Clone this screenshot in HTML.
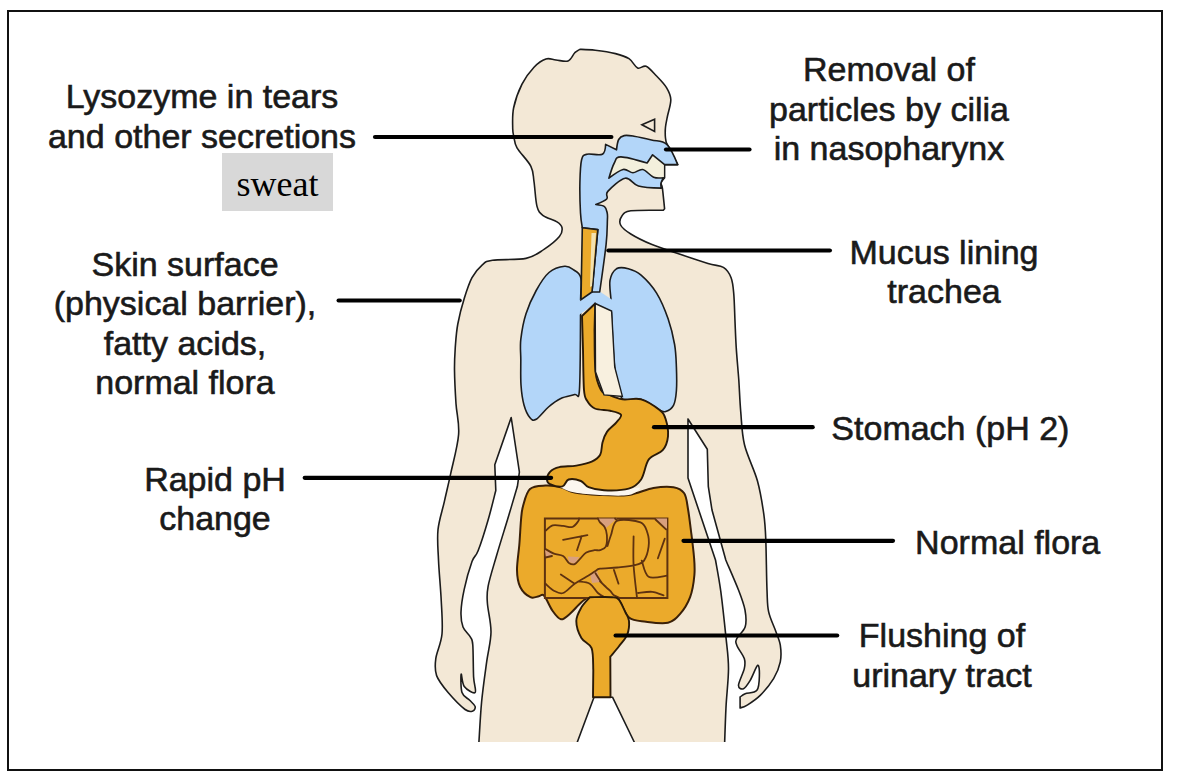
<!DOCTYPE html>
<html><head><meta charset="utf-8"><style>
html,body{margin:0;padding:0;background:#fff;width:1177px;height:778px;overflow:hidden;position:relative}
.sweat{position:absolute;left:222px;top:153px;width:111px;height:58px;background:#d8d8d8;font-family:"Liberation Serif",serif;font-size:36px;line-height:62px;text-align:center;color:#000}
</style></head><body>
<svg width="1177" height="778" viewBox="0 0 1177 778" style="position:absolute;left:0;top:0">
<rect x="8" y="11" width="1154" height="759" fill="#fff" stroke="#111" stroke-width="2"/>
<path d="M579.9,49.3 C582.5,49.4 589.3,49.5 595.2,50.2 C601.1,50.9 609.9,52.2 615.5,53.6 C621.1,55.0 625.3,56.3 629.0,58.7 C632.7,61.1 634.8,66.7 637.6,68.0 C640.5,69.3 643.0,65.0 646.1,66.3 C649.2,67.6 652.9,72.2 656.3,75.7 C659.7,79.2 664.1,83.6 666.5,87.6 C668.9,91.6 670.6,94.8 670.8,99.5 C671.0,104.2 668.4,111.4 667.5,116.0 C666.6,120.6 665.9,123.7 665.5,127.0 C665.1,130.3 665.2,133.4 665.3,136.0 C665.4,138.6 666.1,141.3 666.2,142.4 L677.7,164.6 L664.6,164.6 L664.6,177.7 C664.0,178.6 661.4,181.3 661.0,183.0 C660.6,184.7 661.8,183.8 662.4,188.1 C663.0,192.4 664.2,205.4 664.6,208.8 L663.3,210.3 C657.9,210.4 637.7,209.9 630.8,210.8 C623.9,211.8 623.6,213.6 621.9,216.0 C620.2,218.4 619.1,222.0 620.6,225.0 C622.1,228.0 625.7,230.8 630.8,234.0 C635.9,237.2 643.7,241.1 651.4,244.3 C659.1,247.5 667.7,250.1 677.1,253.3 C686.5,256.5 700.3,261.1 708.0,263.5 C715.7,265.9 719.5,265.0 723.4,267.4 C727.2,269.8 729.4,273.4 731.1,277.7 C732.8,282.0 733.1,285.8 733.7,293.1 C734.4,300.4 734.6,312.4 735.0,321.4 C735.4,330.4 735.6,337.3 736.2,347.1 C736.8,356.9 738.0,369.3 738.8,380.0 C739.5,390.7 739.8,400.6 740.7,411.4 C741.7,422.2 741.7,433.2 744.5,444.8 C747.3,456.4 754.2,469.2 757.4,480.8 C760.6,492.4 762.4,504.3 763.8,514.2 C765.2,524.1 765.3,527.4 765.8,540.0 C766.3,552.6 766.5,578.0 767.0,590.0 C767.5,602.0 767.2,605.0 768.6,611.7 C770.0,618.4 773.3,624.5 775.3,630.1 C777.2,635.7 779.5,639.9 780.3,645.2 C781.1,650.5 781.4,656.3 780.3,661.9 C779.2,667.5 777.0,673.0 773.6,678.6 C770.2,684.2 764.7,690.9 760.2,695.4 C755.7,699.9 750.1,703.3 746.8,705.4 C743.4,707.5 741.2,707.5 740.1,707.9 L740.1,697.0 C741.0,696.5 742.4,694.8 745.2,693.7 C748.0,692.6 754.5,693.4 756.9,690.3 C759.3,687.2 759.3,679.5 759.4,675.3 C759.5,671.1 759.2,664.5 757.7,665.3 C756.2,666.1 752.6,676.4 750.2,680.3 C747.8,684.2 745.5,687.9 743.5,688.7 C741.5,689.5 738.4,688.6 738.5,685.3 C738.6,681.9 743.3,673.0 744.3,668.6 C745.3,664.2 745.5,662.5 744.3,658.6 C743.0,654.7 738.0,648.6 736.8,645.2 C735.5,641.9 735.4,641.6 736.8,638.5 C738.2,635.4 743.8,631.5 745.2,626.8 C746.6,622.0 746.1,616.1 745.0,610.0 C743.9,603.9 741.7,598.3 738.5,590.0 C735.3,581.7 727.9,565.0 725.8,560.0 L712.0,510.0 L708.3,486.3 L707.3,449.3 L688.0,419.0 L688.0,478.0 L692.0,490.0 L715.5,560.0 L715.5,560.0 C716.4,565.2 719.0,578.4 720.8,591.4 C722.5,604.4 724.7,624.9 726.0,637.7 C727.3,650.6 728.5,656.9 728.5,668.5 C728.5,680.1 726.6,694.5 726.0,707.1 C725.4,719.7 724.8,737.9 724.6,744.0 L724.6,744.0 L635.2,744.0 L612.5,697.2 L594.0,697.2 L576.6,744.0 L478.8,744.0 L478.8,744.0 C479.3,737.0 480.3,715.7 481.6,702.0 C482.9,688.3 485.1,673.4 486.7,661.7 C488.3,650.0 490.9,641.8 491.0,632.0 C491.1,622.2 487.9,610.8 487.4,603.2 C486.9,595.6 486.6,594.2 488.1,586.3 C489.6,578.3 493.4,566.5 496.6,555.5 C499.8,544.5 503.9,531.5 507.4,520.0 C510.9,508.5 515.7,491.9 517.4,486.3 L519.4,472.0 L511.2,417.5 L494.8,464.8 L495.8,490.5 L495.8,490.5 C494.5,495.4 491.1,509.9 488.1,520.0 C485.2,530.0 480.8,543.9 478.1,550.8 C475.4,557.7 474.3,555.2 472.0,561.6 C469.7,568.0 466.0,581.0 464.2,589.4 C462.4,597.8 461.2,605.7 461.0,612.0 C460.8,618.3 461.4,622.8 463.0,627.0 C464.6,631.2 468.8,634.1 470.4,637.1 C472.0,640.1 472.3,638.4 472.8,645.0 C473.3,651.6 473.2,669.1 473.6,677.0 C474.0,684.9 476.7,690.9 475.1,692.5 C473.6,694.1 466.6,689.5 464.3,686.4 C462.0,683.3 461.6,673.0 461.2,674.0 C460.8,675.0 460.6,688.1 462.0,692.5 C463.4,696.9 467.5,698.0 469.7,700.3 C471.9,702.6 474.6,704.6 475.1,706.4 C475.6,708.2 474.5,710.5 472.8,711.0 C471.1,711.5 469.2,712.6 465.1,709.5 C461.0,706.4 452.9,698.1 448.1,692.5 C443.4,686.9 438.7,681.2 436.6,675.6 C434.6,670.0 434.9,665.5 435.8,658.6 C436.7,651.7 441.1,643.8 442.0,634.0 C442.9,624.2 441.8,612.3 441.2,600.0 C440.6,587.7 439.0,571.7 438.5,560.0 C438.0,548.3 437.0,539.5 438.0,529.7 C439.0,519.9 442.3,510.8 444.4,501.4 C446.5,492.0 448.4,484.2 450.8,473.1 C453.2,462.0 457.7,446.1 458.6,434.5 C459.5,422.9 456.7,414.4 456.0,403.7 C455.3,392.9 454.6,379.4 454.5,370.0 C454.4,360.6 454.8,354.7 455.3,347.0 C455.9,339.3 456.3,332.1 457.8,324.0 C459.3,315.9 461.9,306.0 464.3,298.3 C466.7,290.6 469.0,283.3 472.0,277.7 C475.0,272.1 478.9,267.7 482.3,264.8 C485.7,261.9 485.2,261.3 492.5,260.2 C499.8,259.1 517.4,260.2 526.0,258.4 C534.6,256.6 538.4,253.0 544.0,249.4 C549.6,245.8 556.4,240.2 559.4,236.6 C562.4,233.0 562.4,230.1 562.0,227.6 C561.6,225.1 560.1,223.8 557.0,221.8 C553.9,219.8 546.5,218.2 543.2,215.6 C539.9,213.0 538.5,212.1 537.0,206.4 C535.5,200.8 535.0,188.4 534.0,181.7 C533.0,175.0 533.7,172.0 530.9,166.3 C528.1,160.7 519.8,152.7 517.0,147.8 C514.2,142.9 514.6,140.2 513.9,137.0 C513.2,133.8 512.8,133.2 512.7,128.4 C512.7,123.6 512.1,115.4 513.6,108.0 C515.1,100.6 518.6,91.0 522.0,84.2 C525.4,77.4 530.0,71.4 534.0,67.2 C538.0,63.0 542.2,60.2 545.9,59.0 C549.6,57.8 552.3,59.7 556.0,60.0 C559.7,60.3 564.9,62.2 568.0,61.0 C571.1,59.8 572.8,54.7 574.8,52.7 C576.8,50.8 579.0,49.9 579.9,49.3 Z" fill="#f3e8d6" stroke="#1c1c1c" stroke-width="1.6" stroke-linejoin="round"/>
<rect x="470" y="742" width="260" height="10" fill="#fff"/>
<path d="M641.9,124.8 L654.6,119.2 L654.6,131.5 Z" fill="none" stroke="#1c1c1c" stroke-width="1.6"/>
<path d="M564.6,266.3 C568.8,265.9 571.2,268.1 573.9,270.0 C576.6,271.9 579.7,272.8 580.8,277.8 C581.9,282.8 580.7,289.6 580.6,300.0 C580.5,310.4 580.6,324.7 580.4,340.0 C580.2,355.3 580.2,382.7 579.3,391.8 C578.3,400.9 577.8,393.5 574.7,394.6 C571.6,395.7 565.2,396.4 560.8,398.5 C556.4,400.6 552.6,403.5 548.5,407.0 C544.4,410.5 539.3,417.5 536.2,419.3 C533.1,421.1 532.0,420.2 530.0,417.8 C528.0,415.4 525.5,410.5 524.0,405.0 C522.5,399.5 521.5,392.5 521.0,385.0 C520.5,377.5 520.8,367.6 520.8,360.0 C520.8,352.4 519.9,347.1 520.8,339.4 C521.7,331.7 523.4,321.8 526.0,313.7 C528.6,305.6 532.4,297.4 536.2,290.5 C540.0,283.6 544.3,276.5 549.0,272.5 C553.7,268.5 560.5,266.7 564.6,266.3 Z" fill="#b3d6f9" stroke="#1c1c1c" stroke-width="1.6"/>
<path d="M610.0,280.4 C610.9,275.2 613.4,270.8 616.4,268.8 C619.4,266.9 624.2,267.6 628.3,268.7 C632.4,269.8 636.4,271.0 641.1,275.1 C645.8,279.2 652.1,285.8 656.6,293.1 C661.1,300.4 665.1,310.2 668.1,318.8 C671.1,327.4 673.2,336.4 674.6,344.5 C676.0,352.6 676.1,359.4 676.4,367.1 C676.7,374.8 676.9,384.4 676.4,390.8 C675.9,397.2 675.3,401.9 673.5,405.4 C671.7,408.9 668.0,410.8 665.7,411.6 C663.4,412.4 663.7,412.1 659.6,410.0 C655.5,407.9 647.3,401.1 641.1,399.3 C634.9,397.5 626.9,404.7 622.5,399.3 C618.1,393.9 616.5,380.9 614.7,367.0 C612.9,353.1 612.2,327.4 611.6,316.2 C611.0,305.0 611.3,306.0 611.0,300.0 C610.7,294.0 609.1,285.6 610.0,280.4 Z" fill="#b3d6f9" stroke="#1c1c1c" stroke-width="1.6"/>
<path d="M577.5,301.5 L592.0,291.5 L599.7,291.5 L614.0,301.0 L614.0,312.5 L595.2,303.5 L577.5,316.0 Z" fill="#b3d6f9"/>
<path d="M663.6,164.6 L652.6,154.8 L647.1,163 L620.9,156.9 L614.3,163 L608.9,178.2 L623.1,169.5 L632.9,172.8 L642.7,169.5 L653.6,177.2 L663.6,177.7 Z" fill="#f3f0dc"/>
<path d="M581.6,159.7 C582.8,155.0 583.5,155.1 587.0,154.2 C590.5,153.3 599.2,155.8 602.3,154.2 C605.4,152.6 605.6,144.4 605.6,144.4 C605.6,144.4 616.5,149.8 616.5,149.8 C616.5,149.8 617.4,141.9 618.7,139.5 C620.0,137.1 621.7,136.2 624.2,135.6 C626.8,135.0 629.5,135.5 634.0,136.2 C638.5,136.9 646.0,138.6 651.5,140.0 C657.0,141.4 662.4,140.3 666.8,144.4 C671.2,148.5 677.7,164.6 677.7,164.6 C677.7,164.6 664.6,164.6 664.6,164.6 C664.6,164.6 652.6,154.8 652.6,154.8 C652.6,154.8 647.1,163.0 647.1,163.0 C647.1,163.0 626.4,156.9 620.9,156.9 C615.4,156.9 616.3,159.4 614.3,163.0 C612.3,166.6 608.9,178.2 608.9,178.2 C608.9,178.2 619.1,170.4 623.1,169.5 C627.1,168.6 629.6,172.8 632.9,172.8 C636.2,172.8 639.2,168.8 642.7,169.5 C646.2,170.2 650.1,175.8 653.6,177.2 C657.1,178.6 663.5,177.7 663.5,177.7 C663.5,177.7 661.4,181.3 661.0,183.0 C660.6,184.7 661.3,188.1 661.3,188.1 C661.3,188.1 644.4,187.6 638.4,185.9 C632.4,184.2 630.3,177.3 625.2,178.2 C620.1,179.1 610.9,187.9 607.8,191.4 C604.7,194.9 608.7,196.8 606.7,199.0 C604.7,201.2 595.8,204.5 595.8,204.5 C595.8,204.5 602.6,205.2 604.5,206.6 C606.4,208.0 606.7,210.8 607.2,213.0 C607.7,215.2 607.6,214.8 607.4,220.0 C607.2,225.2 607.4,232.4 606.1,244.4 C604.8,256.4 599.7,292.0 599.7,292.0 C599.7,292.0 592.0,292.0 592.0,292.0 C592.0,292.0 597.8,229.6 597.8,229.6 C597.8,229.6 582.3,227.7 582.3,227.7 C582.3,227.7 580.9,220.5 580.5,213.0 C580.1,205.5 579.7,191.5 579.9,182.6 C580.1,173.7 580.4,164.4 581.6,159.7 Z" fill="#b3d6f9" stroke="#1c1c1c" stroke-width="1.6" stroke-linejoin="round"/>
<path d="M582.3,227.7 L597.8,229.6 L592.0,292.0 L581.0,299.7 Z" fill="#ebaa2b" stroke="#1c1c1c" stroke-width="1.6"/>
<path d="M591.5,233.0 L596.0,233.0 L592.0,286.0 L590.0,287.0 Z" fill="#f3e2b0"/>
<path d="M530.0,489.0 C533.7,485.6 540.3,485.9 545.4,485.6 C550.5,485.3 555.9,486.0 560.8,487.2 C565.7,488.4 568.3,491.3 574.7,492.6 C581.1,493.9 590.4,494.5 599.4,494.9 C608.4,495.3 619.7,496.0 628.7,494.9 C637.7,493.8 645.9,489.3 653.4,488.0 C660.9,486.7 668.4,486.3 673.5,487.2 C678.6,488.1 681.8,489.7 684.2,493.3 C686.6,496.9 686.9,502.7 688.0,509.0 C689.1,515.3 690.0,523.0 691.0,531.0 C692.0,539.0 693.4,549.7 694.0,557.0 C694.6,564.3 695.0,568.3 694.4,575.0 C693.8,581.7 692.5,590.7 690.1,597.2 C687.7,603.7 683.6,610.0 679.9,614.2 C676.2,618.5 673.6,621.4 668.0,622.7 C662.4,624.0 652.5,622.6 646.0,621.8 C639.5,620.9 633.5,621.3 629.0,617.6 C624.5,613.9 621.6,603.1 618.8,599.7 C616.0,596.3 616.8,597.6 612.0,597.2 C607.2,596.8 595.0,596.4 589.9,597.2 C584.8,598.1 584.8,599.5 581.4,602.3 C578.0,605.1 572.9,611.4 569.5,614.2 C566.1,617.0 563.8,619.9 561.0,619.3 C558.2,618.7 555.3,614.8 552.5,610.8 C549.7,606.8 546.3,597.9 544.0,595.5 C541.7,593.1 541.2,596.0 538.9,596.3 C536.6,596.6 533.5,598.8 530.4,597.2 C527.3,595.7 522.4,591.5 520.2,587.0 C518.0,582.5 517.1,577.0 517.0,570.0 C516.9,563.0 518.6,553.3 519.3,545.0 C520.0,536.7 520.4,526.5 521.0,520.0 C521.6,513.5 521.6,510.9 523.1,505.7 C524.6,500.5 526.3,492.4 530.0,489.0 Z" fill="#ebaa2b" stroke="#3a2008" stroke-width="2"/>
<rect x="544.9" y="518.5" width="122.5" height="79.5" fill="#ebaa2b" stroke="#5e3210" stroke-width="2"/>
<path d="M597.9,518.5 L617.0,518.5 L606.0,528.0 L602.0,524.0 Z M567.8,556.5 L579.3,557.0 L574.7,564.0 L569.0,562.0 Z M655.5,518.5 L667.0,518.5 L667.0,529.0 Z M545.0,550.0 L553.0,554.0 L546.0,558.0 Z M590.0,574.0 L597.0,571.0 L601.0,582.0 L592.0,583.0 Z" fill="#d9a07e"/>
<path d="M545.8,530.5 C546.9,529.6 549.8,526.1 552.7,525.3 C555.6,524.5 559.8,525.6 563.1,525.9 C566.4,526.2 569.9,527.8 572.4,527.0 C574.9,526.2 577.1,522.7 578.2,521.3 C579.3,519.9 578.9,519.0 579.0,518.5 M545.5,549.0 C546.9,549.8 551.0,552.5 553.9,553.7 C556.8,554.9 560.6,554.5 563.1,556.0 C565.6,557.5 567.0,561.5 568.9,562.9 C570.8,564.2 572.8,564.9 574.7,564.1 C576.6,563.3 578.6,560.2 580.5,558.3 C582.4,556.4 584.0,553.9 586.3,552.5 C588.6,551.1 592.1,550.6 594.4,550.2 C596.7,549.8 598.1,550.8 600.0,550.2 C601.9,549.6 604.6,549.2 605.8,546.7 C606.9,544.2 607.1,538.4 606.9,535.1 C606.7,531.8 605.8,529.1 604.6,527.0 C603.5,524.9 601.1,523.8 600.0,522.4 C598.9,521.0 598.2,519.1 597.9,518.4 M563.1,539.8 L587.4,535.1 M581.7,536.3 L577.0,550.2 M545.5,557.5 L552.0,556.0 M560.8,574.5 L574.7,583.7 M545.5,583.7 C546.9,584.9 551.0,589.2 553.9,590.7 C556.8,592.2 559.6,594.2 563.1,593.0 C566.6,591.8 570.8,586.4 574.7,583.7 C578.6,581.0 582.8,578.9 586.3,576.8 C589.8,574.7 593.2,572.4 595.5,571.0 C597.8,569.6 596.4,569.3 600.0,568.7 C603.6,568.1 611.6,568.1 617.4,567.5 C623.2,566.9 630.3,566.4 634.7,565.2 C639.1,564.1 641.7,563.7 644.0,560.6 C646.3,557.5 648.0,551.3 648.6,546.7 C649.2,542.1 648.8,536.8 647.4,532.8 C646.0,528.8 645.5,524.4 640.5,522.4 C635.5,520.4 622.3,518.6 617.4,520.7 C612.5,522.8 612.6,530.8 611.0,535.0 C609.4,539.2 608.1,544.2 607.5,546.0 M578.2,581.4 C580.1,581.8 586.5,581.8 589.8,583.7 C593.1,585.6 595.2,590.6 597.9,593.0 C600.6,595.4 604.6,597.2 606.0,598.0 M595.5,573.3 C596.7,575.0 600.1,580.8 602.5,583.7 C604.9,586.6 608.1,588.8 610.0,590.7 C611.9,592.6 612.2,594.1 613.9,595.3 C615.6,596.5 619.0,597.5 620.0,598.0 M600.0,581.4 L606.0,587.0 M633.6,536.3 C633.6,541.1 633.0,555.0 633.6,565.2 C634.2,575.4 636.4,592.2 637.0,597.6 M655.5,519.5 L666.0,529.4 M664.8,538.6 L657.9,558.3 M641.7,560.6 C642.9,563.3 644.4,574.3 648.6,576.8 C652.8,579.3 664.0,575.8 667.1,575.6 M613.9,569.9 L618.5,583.7 M638.2,593.0 C640.5,592.8 647.9,591.4 652.1,591.8 C656.3,592.2 661.7,594.7 663.6,595.3 M617.4,520.7 L615.0,518.5" fill="none" stroke="#5e3210" stroke-width="1.8" stroke-linecap="round"/>
<path d="M562.4,486.4 C563.7,485.1 565.5,480.4 568.6,479.5 C571.7,478.6 577.6,479.7 580.9,481.0 C584.2,482.3 584.8,485.6 588.6,487.2 C592.5,488.8 597.3,490.1 604.0,490.3 C610.7,490.6 622.7,489.1 628.7,488.7 C634.7,488.3 640.0,486.9 640.0,488.0 C640.0,489.1 635.5,493.8 628.7,495.0 C621.9,496.2 608.4,495.4 599.4,495.0 C590.4,494.6 581.1,493.9 574.7,492.6 C568.3,491.4 562.8,488.5 560.8,487.5 C558.8,486.5 561.1,487.7 562.4,486.4 Z" fill="#fbf6ef"/>
<path d="M595.2,303.5 L594.5,330.0 C594.7,337.0 594.4,361.8 595.5,371.8 C596.6,381.8 599.1,386.3 601.0,390.0 C602.9,393.7 603.5,392.3 607.1,393.9 C610.7,395.4 616.8,398.4 622.5,399.3 C628.2,400.2 634.9,397.5 641.1,399.3 C647.3,401.1 655.5,406.7 659.6,410.0 C663.7,413.3 664.3,414.9 665.7,419.3 C667.1,423.7 668.5,431.2 668.0,436.3 C667.5,441.4 665.9,446.4 662.7,450.2 C659.5,454.0 652.4,454.5 648.8,459.4 C645.2,464.3 644.5,474.6 641.1,479.5 C637.8,484.4 634.9,486.9 628.7,488.7 C622.5,490.5 610.7,490.6 604.0,490.3 C597.3,490.1 592.5,488.8 588.6,487.2 C584.8,485.6 584.2,482.3 580.9,481.0 C577.6,479.7 571.7,478.6 568.6,479.5 C565.5,480.4 565.5,485.6 562.4,486.4 C559.3,487.2 552.6,485.2 550.0,484.1 C547.4,483.0 547.0,481.6 547.0,479.5 C547.0,477.4 548.0,473.9 550.0,471.8 C552.0,469.7 554.9,468.1 559.3,467.1 C563.7,466.1 570.9,466.5 576.3,465.6 C581.7,464.7 587.7,463.5 591.7,461.7 C595.7,459.9 598.4,458.0 600.2,454.8 C602.0,451.6 601.4,446.3 602.5,442.4 C603.6,438.5 604.8,434.9 607.1,431.6 C609.4,428.3 614.1,425.2 616.4,422.4 C618.7,419.6 622.0,416.6 621.0,414.7 C620.0,412.8 614.6,411.8 610.2,410.8 C605.8,409.8 598.6,410.2 594.8,408.5 C590.9,406.8 588.9,403.9 587.1,400.8 C585.3,397.7 584.7,398.5 584.0,390.0 C583.3,381.5 583.2,356.7 583.0,350.0 L582.0,316.0 Z" fill="#ebaa2b" stroke="#2a1a08" stroke-width="1.9" stroke-linejoin="round"/>
<path d="M595.2,303.5 L611.6,311.0 L614.7,367.0 L622.4,396.4 L604.0,394.9 L595.5,371.8 Z" fill="#f8f0df" stroke="#1c1c1c" stroke-width="1.4"/>
<path d="M589.9,597.2 C593.6,597.2 607.2,596.8 612.0,597.2 C616.8,597.6 616.5,597.2 618.8,599.7 C621.0,602.2 623.8,609.0 625.5,612.5 C627.2,616.0 628.7,617.3 629.0,621.0 C629.3,624.7 628.9,630.4 627.2,634.6 C625.5,638.9 621.6,642.8 618.8,646.5 C616.0,650.2 611.7,655.0 610.3,656.7 L610.5,697.2 L593.0,697.2 L593.3,670.0 C593.0,666.4 593.6,653.5 591.6,648.2 C589.6,642.9 584.0,642.5 581.4,638.0 C578.8,633.5 576.3,626.1 576.3,621.0 C576.3,615.9 579.1,611.4 581.4,607.4 C583.7,603.4 588.5,598.9 589.9,597.2 Z" fill="#ebaa2b" stroke="#2a1a08" stroke-width="1.9" stroke-linejoin="round"/>
<line x1="375.0" y1="137.0" x2="611.4" y2="137.0" stroke="#000" stroke-width="4.2" stroke-linecap="round"/><line x1="666.0" y1="149.5" x2="749.5" y2="149.5" stroke="#000" stroke-width="4.2" stroke-linecap="round"/><line x1="338.6" y1="300.5" x2="459.7" y2="300.5" stroke="#000" stroke-width="4.2" stroke-linecap="round"/><line x1="608.4" y1="250.5" x2="829.9" y2="250.5" stroke="#000" stroke-width="4.2" stroke-linecap="round"/><line x1="654.0" y1="427.2" x2="812.7" y2="427.2" stroke="#000" stroke-width="4.2" stroke-linecap="round"/><line x1="304.7" y1="477.8" x2="551.1" y2="477.8" stroke="#000" stroke-width="4.2" stroke-linecap="round"/><line x1="683.5" y1="540.8" x2="893.0" y2="540.8" stroke="#000" stroke-width="4.2" stroke-linecap="round"/><line x1="615.6" y1="635.5" x2="837.2" y2="635.5" stroke="#000" stroke-width="4.2" stroke-linecap="round"/>
<g font-family="Liberation Sans, sans-serif" font-size="34" fill="#1a1a1a" stroke="#1a1a1a" stroke-width="0.6" text-anchor="middle"><text x="202" y="108.4">Lysozyme in tears</text><text x="202" y="147.9">and other secretions</text><text x="889" y="81.4">Removal of</text><text x="889" y="120.9">particles by cilia</text><text x="889" y="160.4">in nasopharynx</text><text x="185" y="275.5">Skin surface</text><text x="185" y="315.0">(physical barrier),</text><text x="185" y="354.5">fatty acids,</text><text x="185" y="394.0">normal flora</text><text x="215" y="490.5">Rapid pH</text><text x="215" y="530.0">change</text><text x="944" y="263.6">Mucus lining</text><text x="944" y="303.1">trachea</text><text x="950.4" y="439.8">Stomach (pH 2)</text><text x="1007.7" y="553.8">Normal flora</text><text x="942" y="647.4">Flushing of</text><text x="942" y="686.9">urinary tract</text></g>
</svg>
<div class="sweat">sweat</div>
</body></html>
